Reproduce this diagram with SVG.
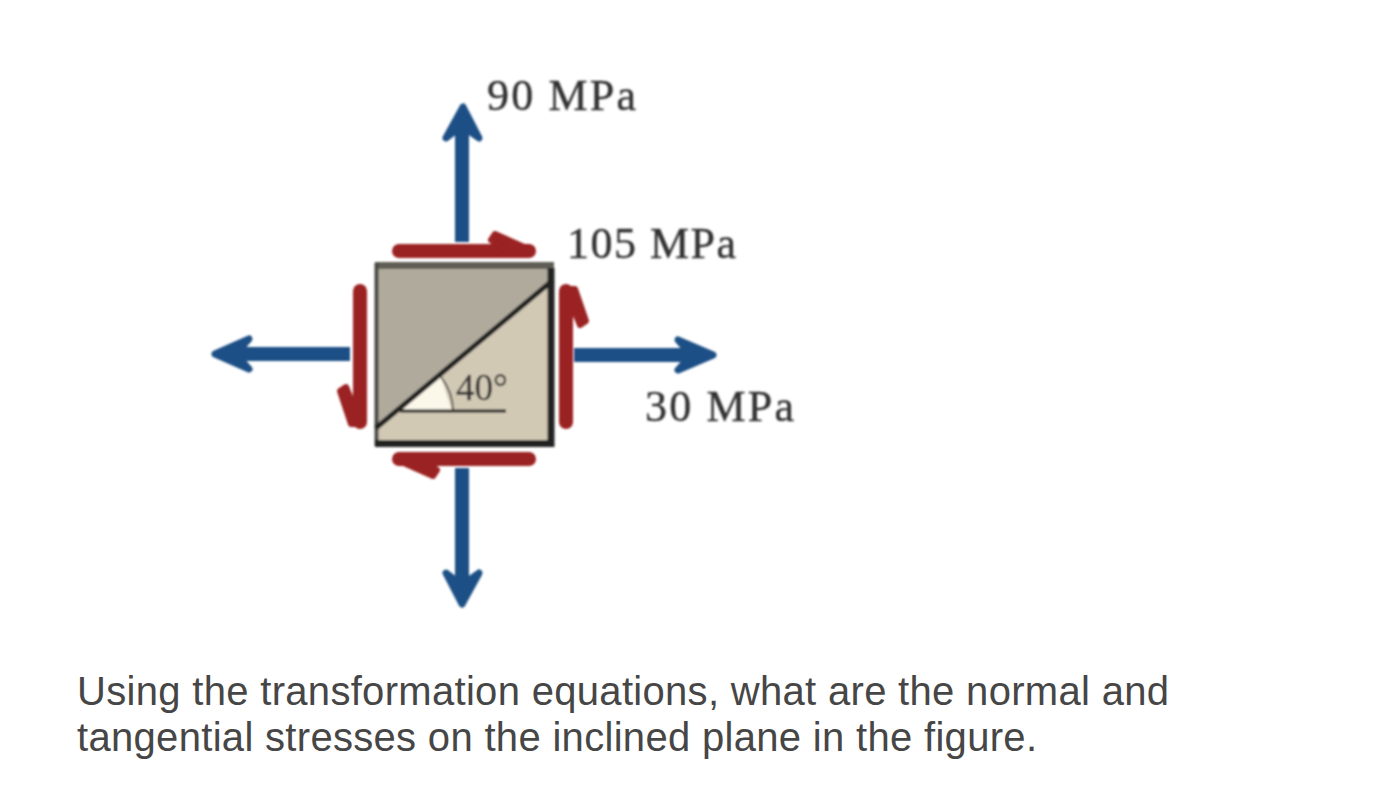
<svg xmlns="http://www.w3.org/2000/svg" width="1396" height="806" viewBox="0 0 1396 806">
<style>
.blue{fill:none;stroke:#1f4f85;stroke-width:14;stroke-linecap:butt}
.bluehead{fill:#1f4f85;stroke:#1f4f85;stroke-width:7;stroke-linejoin:round}
.red{fill:none;stroke:#9b2020;stroke-width:14;stroke-linecap:round}
.redhead{fill:#9b2020;stroke:#9b2020;stroke-width:6;stroke-linejoin:round}
.lbl{font-family:"Liberation Serif",serif;font-size:44px;fill:#333333;stroke:#333333;stroke-width:.4}
.cap{font-family:"Liberation Sans",Arial,sans-serif;font-size:40px;fill:#464646}
</style>
<defs><filter id="soft" x="-5%" y="-5%" width="110%" height="110%"><feGaussianBlur stdDeviation="0.8"/></filter></defs>
<rect width="1396" height="806" fill="#ffffff"/>
<g filter="url(#soft)">
<g id="element">
<rect x="376" y="264" width="176" height="180" fill="#d2c9b5"/>
<polygon points="376,264 552,264 552,280 376,427" fill="#b0aa9c"/>
<polygon points="401,411 441,377 452,411" fill="#fbf8ea"/>
<path d="M375,265.500H554" fill="none" stroke="#5f5d55" stroke-width="7"/>
<path d="M376.500,263V446" fill="none" stroke="#4a4a46" stroke-width="4"/>
<path d="M551,268V447M375,443.500H554" fill="none" stroke="#222222" stroke-width="7"/>
<path d="M376,428L553,280" fill="none" stroke="#222222" stroke-width="5"/>
<path d="M400,411H506" fill="none" stroke="#1c1c1c" stroke-width="3"/>
<path d="M441,377Q453,392 453,411" fill="none" stroke="#333333" stroke-width="1.500"/>
<text id="angle" x="456" y="400" font-family="Liberation Serif,serif" font-size="37" fill="#333333" stroke="#333333" stroke-width=".3">40°</text>
</g>
<g id="connectors">
<path class="blue" d="M462,242V125"/><polygon class="bluehead" points="463,107 446,138 455,131 469,131 479,138"/>
<path class="blue" d="M462,468V585"/><polygon class="bluehead" points="462,604 446,573 455,580 469,580 479,573"/>
<path class="blue" d="M574,355H695"/><polygon class="bluehead" points="713,355 678,340 686,349 686,361 678,370"/>
<path class="blue" d="M350,354H232"/><polygon class="bluehead" points="215,354 249,339 241,348 241,360 249,369"/>
<path class="red" d="M399,251H529"/><polygon class="redhead" points="531,250 495,234 491,240 506,250"/>
<path class="red" d="M529,459H399"/><polygon class="redhead" points="397,460 433,476 437,470 422,460"/>
<path class="red" d="M360,291V422"/><polygon class="redhead" points="361,424 346,387 340,391 351,424"/>
<path class="red" d="M566,422V291"/><polygon class="redhead" points="565,289 580,325 586,321 575,289"/>
</g>
<g id="label-90"><text class="lbl" x="487" y="110" textLength="149" lengthAdjust="spacing">90 MPa</text></g>
<g id="label-105"><text class="lbl" x="567" y="258" textLength="169" lengthAdjust="spacing">105 MPa</text></g>
<g id="label-30"><text class="lbl" x="645" y="421" textLength="149" lengthAdjust="spacing">30 MPa</text></g>
</g>
<g id="caption">
<text class="cap" x="77" y="705" textLength="1092" lengthAdjust="spacing">Using the transformation equations, what are the normal and</text>
<text class="cap" x="77" y="751" textLength="960" lengthAdjust="spacing">tangential stresses on the inclined plane in the figure.</text>
</g>
</svg>
